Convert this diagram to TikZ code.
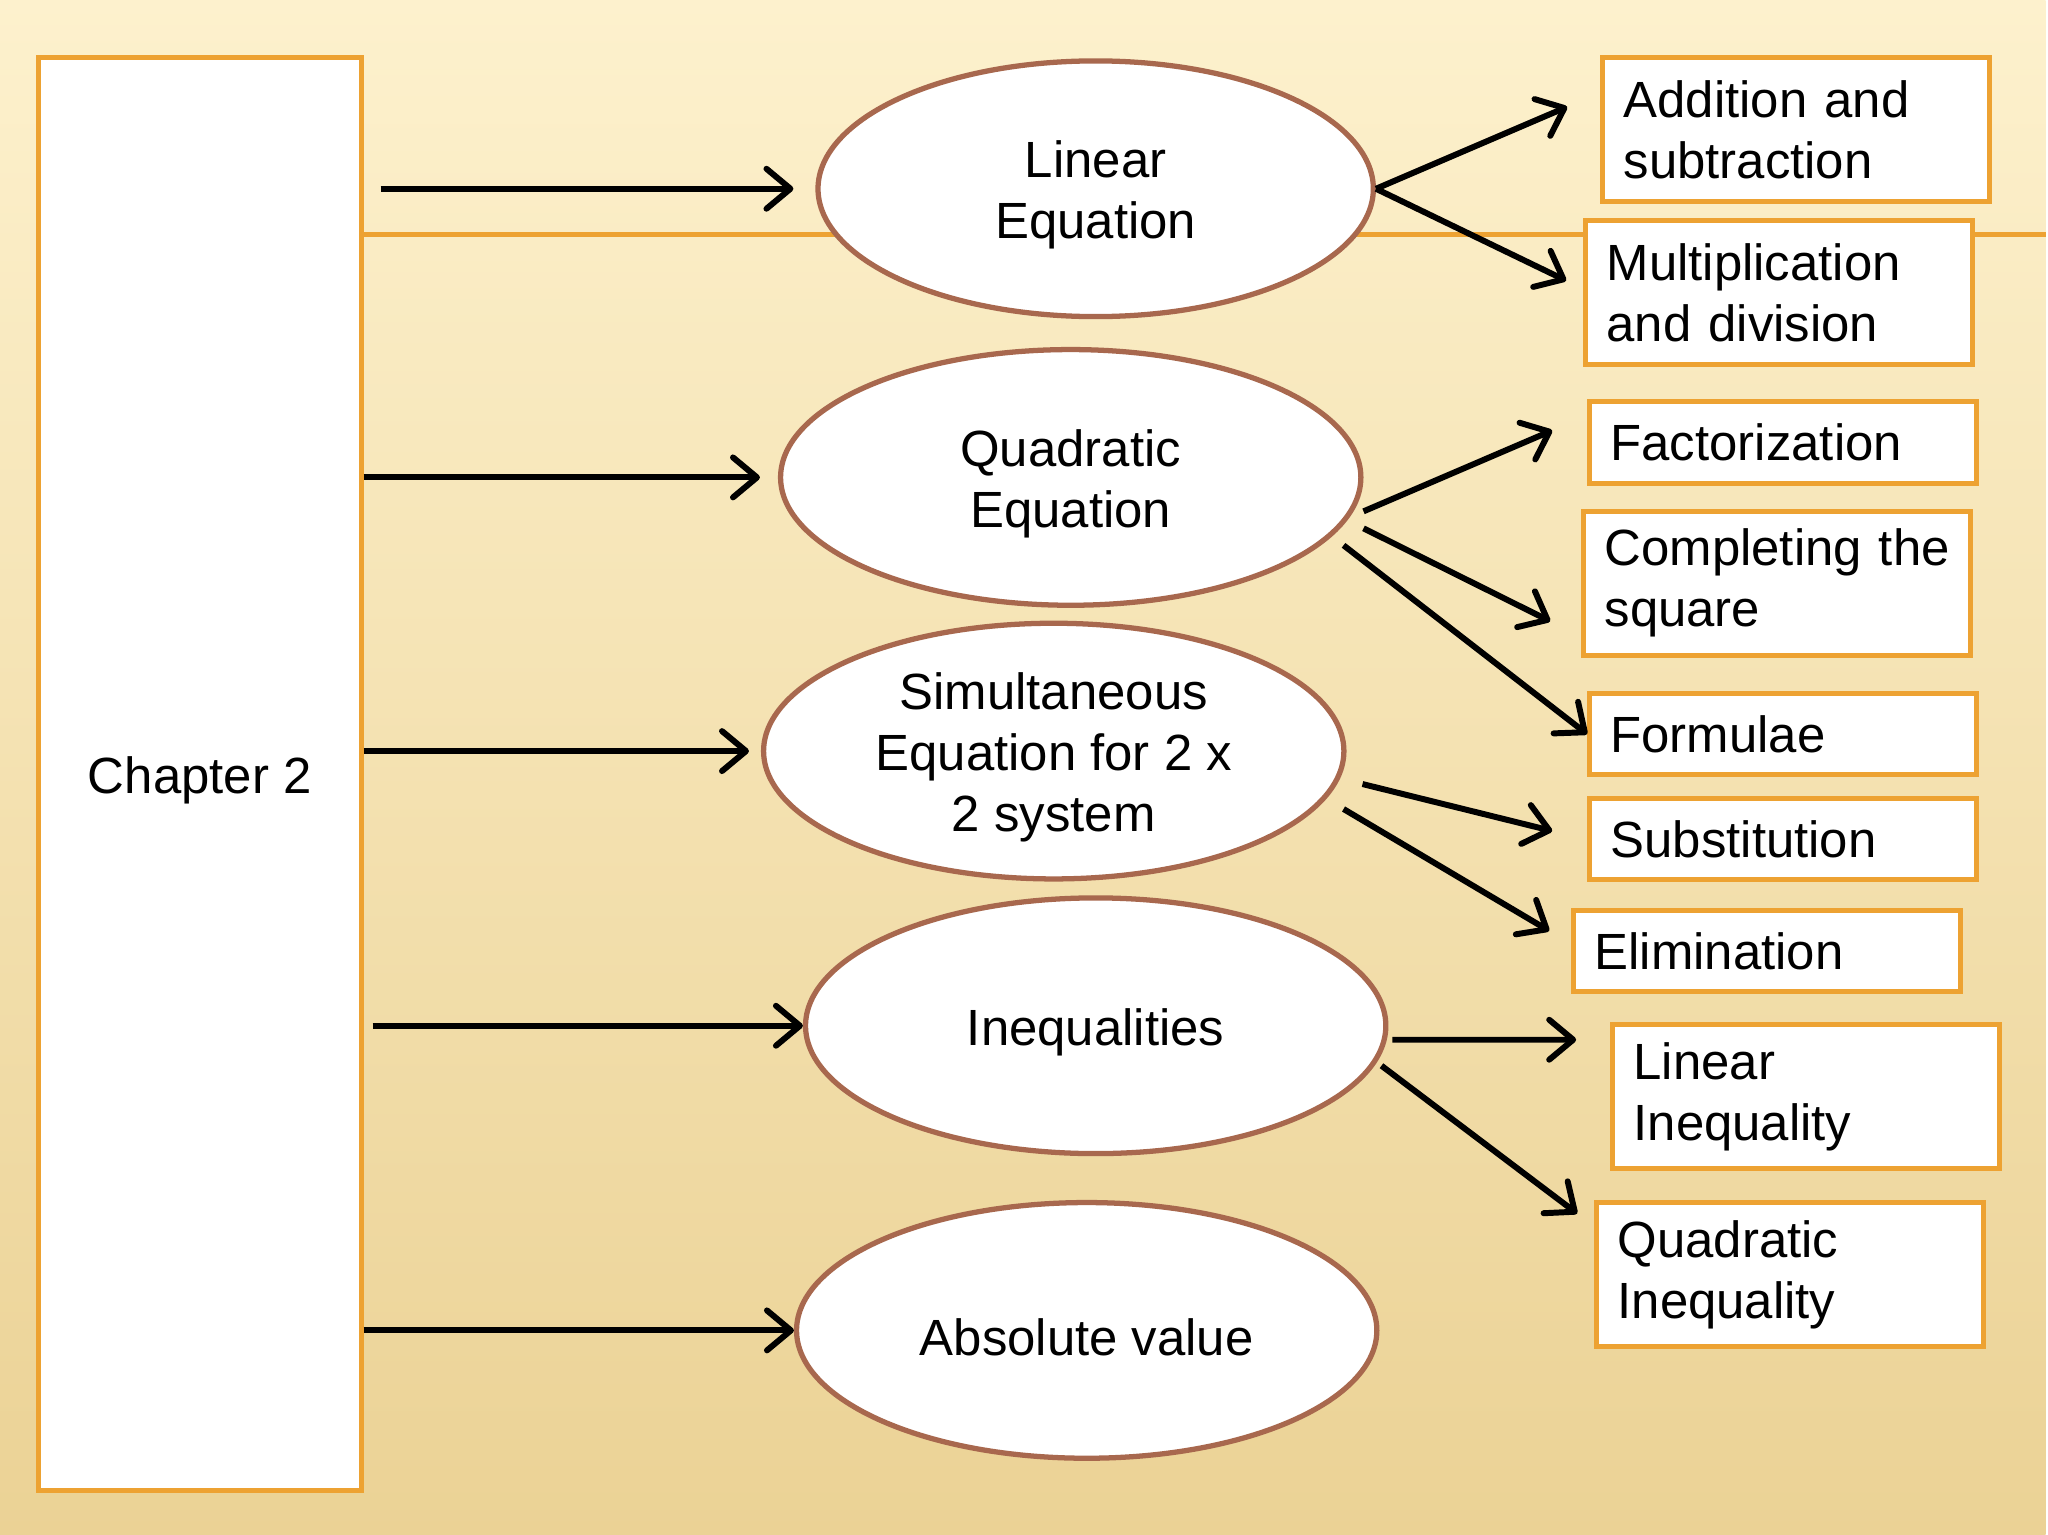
\documentclass[tikz,border=0pt]{standalone}
\usepackage{fontspec}
\setmainfont{Liberation Sans}
\usepackage{tikz}
\usetikzlibrary{shapes.geometric, arrows.meta}

\definecolor{slideTop}{HTML}{FDF1CD}
\definecolor{slideBottom}{HTML}{EBD295}
\definecolor{boxOrange}{HTML}{EDA232}
\definecolor{ovalBrown}{HTML}{A8684E}

% text a little lower, keeping its box
\newcommand{\lowtext}[1]{\raisebox{-0.065cm}[\height][\depth]{#1}}

\begin{document}
\begin{tikzpicture}[
		every node/.style={font=\fontsize{14.5}{17.4}\selectfont},
		chapter/.style={rectangle, draw=boxOrange, fill=white, line width=1.4pt, inner sep=0pt},
		topic/.style={ellipse, draw=ovalBrown, fill=white, line width=1.5pt, minimum width=5.81cm, minimum height=2.56cm, inner sep=0pt, align=center},
		leaf/.style={rectangle, draw=boxOrange, fill=white, line width=1.4pt, text width=3.45cm, inner xsep=0.21cm, inner ysep=0pt, minimum height=1.44cm, align=left},
		link/.style={-{Straight Barb[length=2.4mm, width=4mm, round]}, line width=1.7pt}
	]
  \shade [top color=slideTop, bottom color=slideBottom] (0cm, 0cm) rectangle (20.48cm, 15.36cm);

  \node (chap) [chapter, minimum width=3.23cm, minimum height=14.35cm] at (2cm, 7.61cm) {\lowtext{Chapter 2}};
  \draw [boxOrange, line width=1.4pt] (chap.east |- 0cm, 13.01cm) -- (20.48cm, 13.01cm);

  % middle column
  \node (lin) [topic, minimum width=5.56cm] at (10.97cm, 13.47cm) {\lowtext{Linear}\\\lowtext{Equation}};
  \node (quad) [topic] at (10.72cm, 10.58cm) {\lowtext{Quadratic}\\\lowtext{Equation}};
  \node (sim) [topic] at (10.55cm, 7.84cm) {\lowtext{Simultaneous}\\\lowtext{Equation for 2 x}\\\lowtext{2 system}};
  \node (ineq) [topic] at (10.97cm, 5.09cm) {\lowtext{Inequalities}};
  \node (abs) [topic] at (10.88cm, 2.04cm) {\lowtext{Absolute value}};

  % right column
  \node (add) [leaf] at (17.98cm, 14.06cm) {Addition and\\subtraction};
  \node (mul) [leaf] at (17.81cm, 12.43cm) {Multiplication\\and division};
  \node (fac) [leaf, minimum height=0.82cm] at (17.85cm, 10.93cm) {Factorization};
  \node (comp) [leaf] at (17.79cm, 9.52cm) {Completing~the\\square};
  \node (form) [leaf, minimum height=0.81cm] at (17.85cm, 8.01cm) {Formulae};
  \node (subs) [leaf, minimum height=0.81cm] at (17.85cm, 6.96cm) {Substitution};
  \node (elim) [leaf, minimum height=0.81cm] at (17.69cm, 5.84cm) {Elimination};
  \node (linI) [leaf] at (18.08cm, 4.38cm) {Linear\\Inequality};
  \node (quadI) [leaf] at (17.92cm, 2.6cm) {Quadratic\\Inequality};

  \draw [link, shorten <=0.17cm, shorten >=0.22cm] (chap.east |- lin) -- (lin.west);
  \draw [link, shorten >=0.18cm] (chap.east |- quad) -- (quad.west);
  \draw [link, shorten >=0.12cm] (chap.east |- sim) -- (sim.west);
  \draw [link, shorten <=0.09cm] (chap.east |- ineq) -- (ineq.west);
  \draw [link] (chap.east |- abs) -- (abs.west);

  \draw [link] (lin.east) -- ([xshift=-0.33cm, yshift=0.23cm]add.west);
  \draw [link] (lin.east) -- ([xshift=-0.17cm, yshift=0.12cm]mul.west);
  \draw [link] ([yshift=-0.34cm]quad.east) -- ([xshift=-0.35cm, yshift=0.12cm]fac.west);
  \draw [link] ([yshift=-0.51cm]quad.east) -- ([xshift=-0.31cm, yshift=-0.38cm]comp.west);
  \draw [link] ([xshift=-0.2cm, yshift=-0.68cm]quad.east) -- (form.west);
  \draw [link] ([xshift=0.16cm, yshift=-0.33cm]sim.east) -- ([xshift=-0.35cm, yshift=0.08cm]subs.west);
  \draw [link] ([xshift=-0.03cm, yshift=-0.58cm]sim.east) -- ([xshift=-0.22cm, yshift=0.2cm]elim.west);
  \draw [link] ([xshift=0.04cm, yshift=-0.14cm]ineq.east) -- ([xshift=-0.34cm, yshift=0.57cm]linI.west);
  \draw [link] ([xshift=-0.07cm, yshift=-0.4cm]ineq.east) -- ([xshift=-0.17cm, yshift=0.61cm]quadI.west);
\end{tikzpicture}
\end{document}
